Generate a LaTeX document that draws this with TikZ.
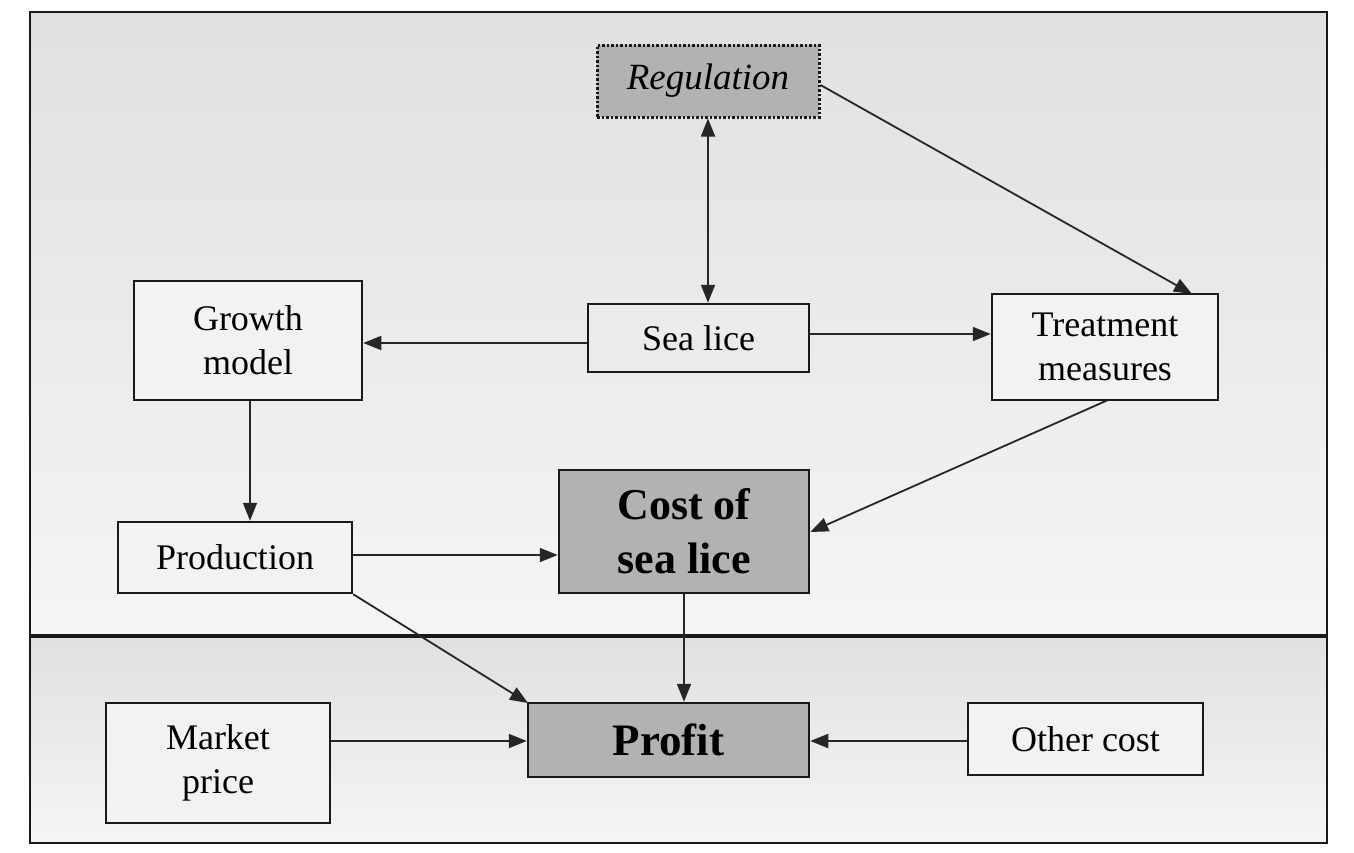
\documentclass[tikz,border=0pt]{standalone}
\usepackage{fontspec}
\setmainfont{Liberation Serif}
\usetikzlibrary{arrows.meta}
\begin{document}
\begin{tikzpicture}[x=1pt,y=-1pt,
  bx/.style={draw=black!90,line width=2.5pt,fill=white!95!black,align=center,font=\fontsize{36}{44}\selectfont,inner sep=0pt},
  dk/.style={fill=black!30},
  arr/.style={line width=1.8pt,draw=black!85,-{Triangle[length=18pt,width=14pt]}}]
\useasboundingbox (0,0) rectangle (1354,852);
\fill[white] (0,0) rectangle (1354,852);
\shade[top color=black!12,bottom color=black!4] (30,12) rectangle (1327,636);
\shade[top color=black!12,bottom color=black!4] (30,636) rectangle (1327,843);
\draw[line width=2.5pt,black!90] (30,12) rectangle (1327,843);
\draw[line width=4pt,black!90] (30,636) -- (1327,636);
\node[bx,dk,dotted,line width=3pt,minimum width=222pt,minimum height=72pt,font=\fontsize{37}{40}\selectfont\itshape] (reg) at (708,81) {Regulation};
\node[bx,minimum width=228pt,minimum height=119pt] (grow) at (248,340.5) {Growth\\model};
\node[bx,fill=black!8,minimum width=221pt,minimum height=68pt] (sea) at (698.5,338) {Sea lice};
\node[bx,minimum width=226pt,minimum height=106pt] (treat) at (1105,347) {Treatment\\measures};
\node[bx,minimum width=234pt,minimum height=71pt] (prod) at (235,557.5) {Production};
\node[bx,dk,minimum width=250pt,minimum height=123pt,font=\fontsize{44}{54}\selectfont\bfseries] (cost) at (684,531.5) {Cost of\\sea lice};
\node[bx,minimum width=224pt,minimum height=120pt] (mkt) at (218,763) {Market\\price};
\node[bx,dk,minimum width=281pt,minimum height=74pt,font=\fontsize{45}{50}\selectfont\bfseries] (profit) at (668.5,740) {Profit};
\node[bx,minimum width=235pt,minimum height=72pt] (other) at (1085.5,739) {Other cost};
\draw[arr,{Triangle[length=18pt,width=14pt]}-{Triangle[length=18pt,width=14pt]}] (reg.south) -- (sea.north-|reg.south);
\draw[arr] (reg.east|-0,85) -- (1192,294);
\draw[arr] (sea.west|-0,343) -- (grow.east|-0,343);
\draw[arr] (sea.east|-0,334) -- (treat.west|-0,334);
\draw[arr] (1108,400) -- (cost.east|-0,532);
\draw[arr] (grow.south-|250,0) -- (prod.north-|250,0);
\draw[arr] (prod.east|-0,555) -- (cost.west|-0,555);
\draw[arr] (prod.south east) -- (528,703);
\draw[arr] (cost.south) -- (profit.north-|cost.south);
\draw[arr] (mkt.east|-0,741) -- (profit.west|-0,741);
\draw[arr] (other.west|-0,741) -- (profit.east|-0,741);
\end{tikzpicture}
\end{document}
